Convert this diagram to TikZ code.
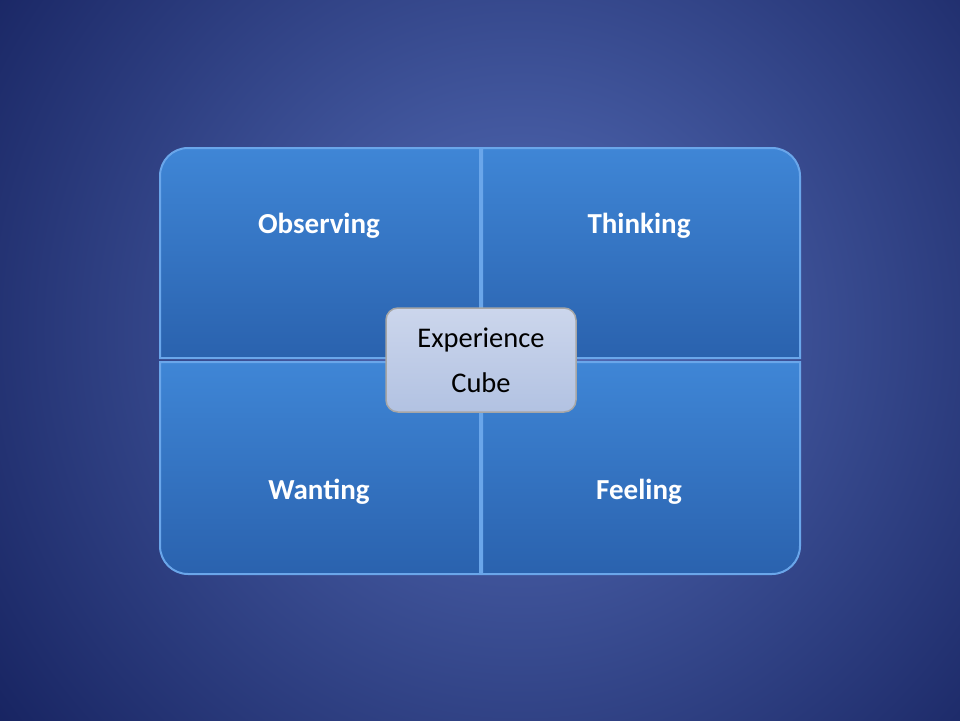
\documentclass[tikz,border=0pt]{standalone}
\usepackage{fontspec}
\setmainfont{Carlito}
\begin{document}
\begin{tikzpicture}[x=1pt,y=-1pt,
  quad/.style={top color=quadtop,bottom color=quadbot,draw=quadedge,line width=2pt},
  lab/.style={text=white,font=\fontsize{29}{34}\selectfont\bfseries}]
\definecolor{quadtop}{HTML}{3F86D6}
\definecolor{quadbot}{HTML}{2A62AE}
\definecolor{quadedge}{HTML}{6AA6EA}
\definecolor{bgin}{HTML}{566FBA}
\definecolor{bgout}{HTML}{15215E}
\definecolor{cubetop}{HTML}{CCD6EC}
\definecolor{cubebot}{HTML}{B2C2E2}
\useasboundingbox (0,0) rectangle (960,720);
\begin{scope}
\clip (0,0) rectangle (960,720);
\shade[inner color=bgin,outer color=bgout] (520,330) circle (680);
\end{scope}
% quadrants
\path[quad] (480,358) -- (160,358) [rounded corners=28] -- (160,148) [sharp corners] -- (480,148) -- cycle;
\path[quad] (482,358) -- (482,148) [rounded corners=28] -- (800,148) [sharp corners] -- (800,358) -- cycle;
\path[quad] (480,362) -- (160,362) [rounded corners=28] -- (160,574) [sharp corners] -- (480,574) -- cycle;
\path[quad] (482,362) -- (800,362) [rounded corners=28] -- (800,574) [sharp corners] -- (482,574) -- cycle;
\node[lab] (obs) at (319,226) {Observing};
\node[lab] (thi) at (639,226) {Thinking};
\node[lab] (wan) at (319,492) {Wanting};
\node[lab] (fee) at (639,492) {Feeling};
\node[draw=gray!70,line width=1.5pt,rounded corners=12,top color=cubetop,bottom color=cubebot,
  minimum width=190pt,minimum height=104pt,align=center,
  font=\fontsize{28.5}{45}\selectfont] (cube) at (481,360) {Experience\\Cube};
\end{tikzpicture}
\end{document}
